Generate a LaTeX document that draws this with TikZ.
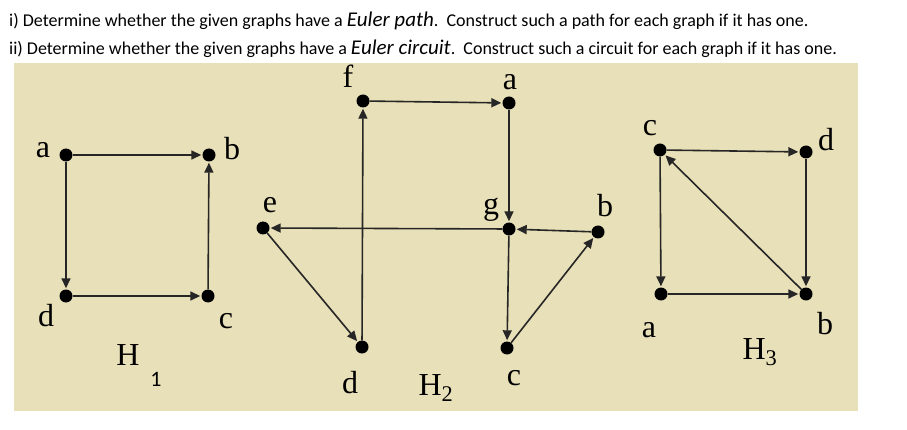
\documentclass[tikz,border=0pt]{standalone}
\usepackage{fontspec}
\setmainfont{Carlito}
\newfontfamily\tms{Liberation Serif}
\usetikzlibrary{arrows.meta}
\definecolor{bg}{HTML}{E8E0B8}
\begin{document}
\begin{tikzpicture}[x=1pt,y=-1pt,
  v/.style={circle,fill=black,inner sep=0pt,minimum size=13pt},
  lab/.style={font=\tms\fontsize{32}{32}\selectfont,inner sep=0pt},
  ar/.style={draw=black!85,line width=1.6pt,-{Triangle[length=10pt,width=9pt]},shorten >=1pt},
  txt/.style={font=\fontsize{18}{20}\selectfont,anchor=west,inner sep=0pt}]
\useasboundingbox (0,0) rectangle (907,430);
\fill[bg] (14,63) rectangle (858,411);
\node[txt] (t1) at (9,21) {i) Determine whether the given graphs have a {\fontsize{21}{20}\selectfont\itshape Euler path}.\ \ Construct such a path for each graph if it has one.};
\node[txt] (t2) at (9,49) {ii) Determine whether the given graphs have a {\fontsize{21}{20}\selectfont\itshape Euler circuit}.\ \ Construct such a circuit for each graph if it has one.};
% H1
\node[v] (a1) at (66,155) {};
\node[v] (b1) at (209,155) {};
\node[v] (d1) at (66,296) {};
\node[v] (c1) at (208,296) {};
\node[lab] (la1) at (43,150) {a};
\node[lab] (lb1) at (232,149) {b};
\node[lab] (ld1) at (46,316) {d};
\node[lab] (lc1) at (226,321) {c};
\node[lab] (lh1) at (128,355) {H};
\node[font=\fontsize{22}{22}\selectfont,inner sep=0pt] (lh1s) at (156,379) {1};
\draw[ar] (a1) -- (b1);
\draw[ar] (a1) -- (d1);
\draw[ar] (d1) -- (c1);
\draw[ar] (c1) -- (b1);
% H2
\node[v] (f2) at (363,101) {};
\node[v] (a2) at (509,103) {};
\node[v] (d2) at (362,347) {};
\node[v] (e2) at (263,228) {};
\node[v] (g2) at (509,229) {};
\node[v] (b2) at (598,232) {};
\node[v] (c2) at (507,348) {};
\node[lab] (lf2) at (348,76) {f};
\node[lab] (la2) at (510,82) {a};
\node[lab] (ld2) at (350,383) {d};
\node[lab] (lc2) at (514,378) {c};
\node[lab] (le2) at (270,205) {e};
\node[lab] (lg2) at (491,210) {g};
\node[lab] (lb2) at (605,206) {b};
\node[lab] (lh2) at (436,388) {H\textsubscript{2}};
\draw[ar] (f2) -- (a2);
\draw[ar] (a2) -- (g2);
\draw[ar] (d2) -- (f2);
\draw[ar] (g2) -- (e2);
\draw[ar] (b2) -- (g2);
\draw[ar] (e2) -- (d2);
\draw[ar] (g2) -- (c2);
\draw[ar] (c2) -- (b2);
% H3
\node[v] (c3) at (660,150) {};
\node[v] (d3) at (806,152) {};
\node[v] (a3) at (661,294) {};
\node[v] (b3) at (806,294) {};
\node[lab] (lc3) at (650,128) {c};
\node[lab] (ld3) at (826,140) {d};
\node[lab] (la3) at (649,330) {a};
\node[lab] (lb3) at (825,324) {b};
\node[lab] (lh3) at (760,352) {H\textsubscript{3}};
\draw[ar] (c3) -- (d3);
\draw[ar] (d3) -- (b3);
\draw[ar] (b3) -- (c3);
\draw[ar] (c3) -- (a3);
\draw[ar] (a3) -- (b3);
\end{tikzpicture}
\end{document}
